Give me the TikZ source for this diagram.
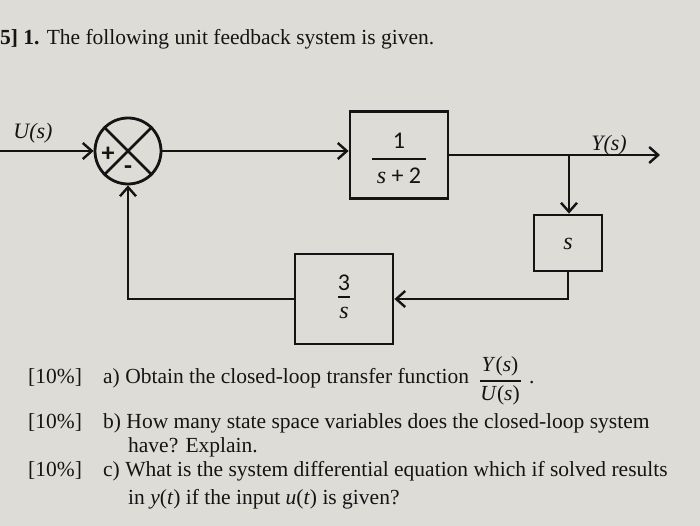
\documentclass[tikz,border=0pt]{standalone}
\usepackage{fontspec}
\setmainfont{Liberation Serif}
\newfontfamily\blockfont{Carlito}
\usetikzlibrary{arrows.meta}
\definecolor{paper}{RGB}{222,220,215}
\definecolor{ink}{RGB}{20,20,20}
\newcommand{\sv}{{\rmfamily\itshape s}}
\begin{document}
\begin{tikzpicture}[x=1pt,y=-1pt,
  wire/.style={draw=ink,line width=2.8pt},
  arr/.style={wire,-{Straight Barb[length=9pt,width=16pt,line width=2.4pt]}},
  blk/.style={draw=ink,line width=2.8pt,inner sep=0pt},
  big/.style={font=\fontsize{21.5}{25}\selectfont,text=ink,inner sep=0pt},
  btxt/.style={font=\fontsize{24}{28}\selectfont\blockfont,text=ink,inner sep=0pt},
  sgn/.style={font=\fontsize{26}{30}\selectfont\blockfont\bfseries,text=ink,inner sep=0pt},
  lbl/.style={font=\fontsize{22}{26}\selectfont\itshape,text=ink,inner sep=0pt}]
\fill[paper] (0,0) rectangle (700,526);
\useasboundingbox (0,0) rectangle (700,526);
% title
\node[big,anchor=base west] (title) at (0,45) {\textbf{5] 1.} The following unit feedback system is given.};
% blocks
\node[circle,draw=ink,line width=2.8pt,minimum size=66pt,inner sep=0pt] (sum) at (128,151) {};
\draw[wire] (sum.north west)--(sum.south east) (sum.north east)--(sum.south west);
\node[sgn] (plus) at (108,154) {+};
\node[sgn] (minus) at (128,170) {-};
\node[blk,minimum width=98pt,minimum height=87pt] (g1) at (399,155) {};
\node[blk,minimum width=68pt,minimum height=56pt] (h) at (568,243) {};
\node[blk,minimum width=98pt,minimum height=90pt] (g2) at (344,299) {};
% block contents
\node[btxt] (g1n) at (399,141) {1};
\draw[ink,line width=1.6pt] (372,159) -- (426,159);
\node[btxt] (g1d) at (399,176) {\sv{} + 2};
\node[btxt] (hs) at (568,244) {\sv};
\node[btxt] (g2n) at (344,283) {3};
\draw[ink,line width=1.6pt] (338,297) -- (350,297);
\node[btxt] (g2d) at (344,313) {\sv};
% signals
\coordinate (in) at (0,151);
\coordinate (out) at (660,155);
\coordinate (branch) at (569,155);
\node[lbl] (U) at (33,133) {U(s)};
\node[lbl] (Y) at (609,145) {Y(s)};
\draw[arr] (in) -- (sum.west);
\draw[arr] (sum.east) -- (sum.east -| g1.west);
\draw[wire] (g1.east |- branch) -- (branch);
\draw[arr] (branch) -- (out);
\draw[arr] (branch) -- (branch |- h.north);
\draw[arr] (h.south) |- (g2.east);
\draw[arr] (g2.west) -| (sum.south);
% questions
\node[big,anchor=base west] (p1) at (28,383) {[10\%]};
\node[big,anchor=base west] (qa) at (103,383) {a) Obtain the closed-loop transfer function};
\node[big] (fy) at (500,366) {\textit{Y}(\textit{s})};
\draw[ink,line width=1.2pt] (480,381) -- (521,381);
\node[big] (fu) at (500,395) {\textit{U}(\textit{s})};
\node[big,anchor=base west] (dot) at (529,383) {.};
\node[big,anchor=base west] (p2) at (28,428) {[10\%]};
\node[big,anchor=base west] (qb) at (103,428) {b) How many state space variables does the closed-loop system};
\node[big,anchor=base west] (qb2) at (128,452) {have? Explain.};
\node[big,anchor=base west] (p3) at (28,476) {[10\%]};
\node[big,anchor=base west] (qc) at (103,476) {c) What is the system differential equation which if solved results};
\node[big,anchor=base west] (qc2) at (128,504) {in \textit{y}(\textit{t}) if the input \textit{u}(\textit{t}) is given?};
\end{tikzpicture}
\end{document}
